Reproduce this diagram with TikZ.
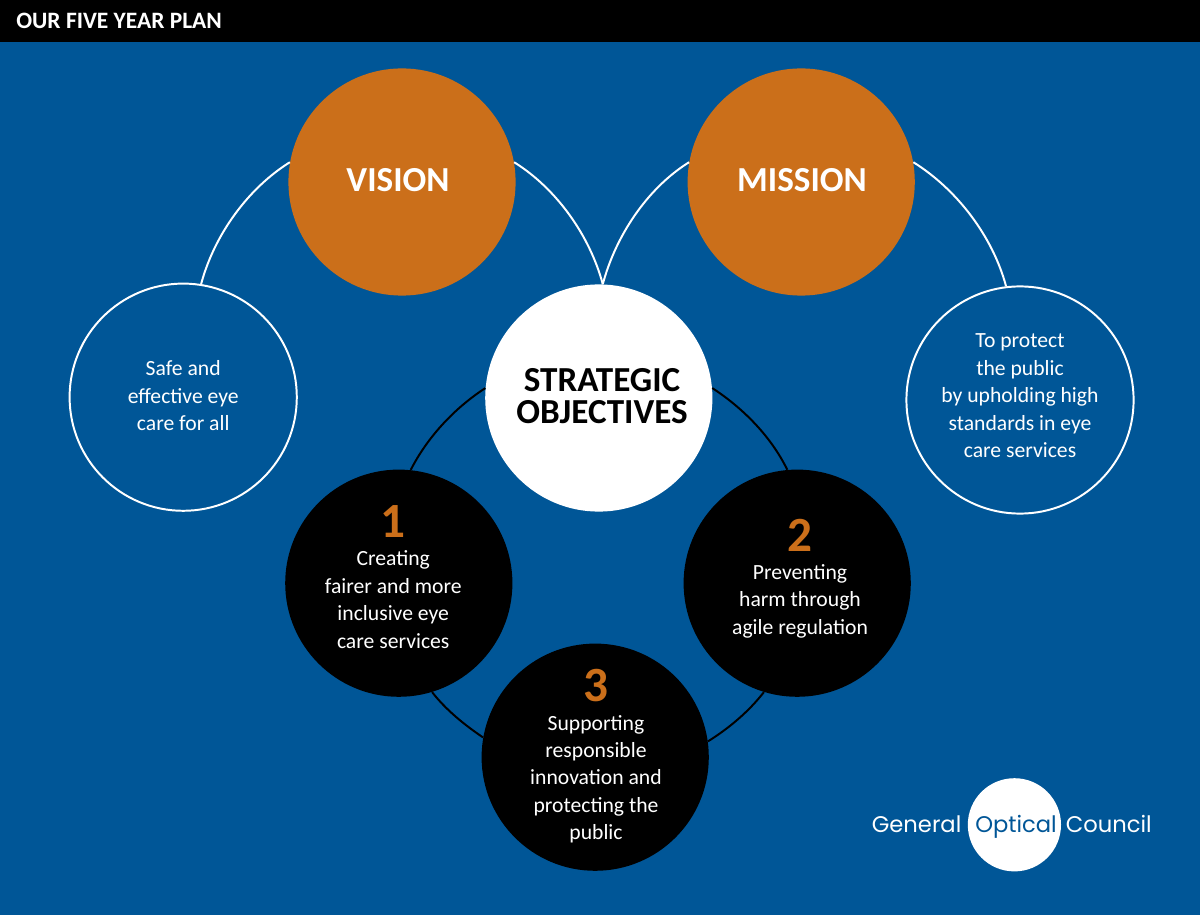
\documentclass[tikz,border=0pt]{standalone}
\usepackage{fontspec}
\setmainfont{Carlito}
\newfontfamily\logofont{Poppins}
\usepackage{xcolor}
\definecolor{gocblue}{HTML}{005697}
\definecolor{gocorange}{HTML}{CB6F1A}
\usetikzlibrary{positioning}

\begin{document}
\begin{tikzpicture}[align=center,
  circ/.style={circle, minimum size=5.68cm, inner sep=0pt},
  orangecirc/.style={circ, fill=gocorange},
  ringcirc/.style={circ, draw=white, line width=1.4pt, fill=gocblue},
  darkcirc/.style={circ, fill=black},
  hdr/.style={font=\fontsize{25}{28}\selectfont\bfseries, text=white},
  body/.style={font=\fontsize{15.4}{19.55}\selectfont, text=white},
  num/.style={font=\fontsize{35}{38}\selectfont\bfseries, text=gocorange},
  logo/.style={font=\logofont\fontsize{16.1}{19}\selectfont},
  wire/.style={line width=1.4pt, draw=white, looseness=0.85},
  darkwire/.style={line width=1.4pt, draw=black, looseness=0.85},
]
\useasboundingbox (0,0) rectangle (30,-22.875);

%% Background and title bar
\node[rectangle, fill=gocblue, inner sep=0pt, minimum width=30cm, minimum height=22.875cm, anchor=north west] (page) at (0,0) {};
\node[rectangle, fill=black, inner sep=0pt, minimum width=30cm, minimum height=1.05cm, anchor=north west] (titlebar) at (0,0) {};
\node[font=\fontsize{16.7}{19}\selectfont\bfseries, text=white, anchor=west, inner sep=0pt] (title) at (0.4,-0.53) {OUR FIVE YEAR PLAN};

%% Upper circles
\node[orangecirc] (vision) at (10.05,-4.55) {};
\node[orangecirc] (mission) at (20.03,-4.55) {};
\node[ringcirc] (safe) at (4.58,-9.93) {};
\node[ringcirc] (protect) at (25.5,-10.0) {};
\node[circ, fill=white] (strategic) at (14.97,-9.95) {};

%% Lower circles
\node[darkcirc] (obj1) at (9.97,-14.58) {};
\node[darkcirc] (obj2) at (19.93,-14.58) {};
\node[darkcirc] (obj3) at (14.88,-18.93) {};

%% Connectors
\draw[wire] (vision.170) to[out=212,in=75] (safe.81);
\draw[wire] (vision.10) to[out=328,in=105] (strategic.88);
\draw[wire] (mission.170) to[out=212,in=75] (strategic.88);
\draw[wire] (mission.10) to[out=328,in=105] (protect.97);
\draw[darkwire] (strategic.175) to[out=213,in=63] (obj1.84);
\draw[darkwire] (obj1.287) to[out=308,in=146] (obj3.170);
\draw[darkwire] (obj3.8) to[out=32,in=232] (obj2.253);
\draw[darkwire] (obj2.95) to[out=116,in=327] (strategic.5);

%% Labels
\node[hdr] (visionlbl) at (9.95,-4.5) {VISION};
\node[hdr] (missionlbl) at (20.05,-4.5) {MISSION};
\node[hdr, text=black, font=\fontsize{25}{23}\selectfont\bfseries] (strategiclbl) at (15.05,-9.9) {STRATEGIC\\OBJECTIVES};
\node[body] (safelbl) at (4.58,-9.9) {Safe and\\effective eye\\care for all};
\node[body] (protectlbl) at (25.5,-9.9) {To protect\\the public\\by upholding high\\standards in eye\\care services};

\node[num] (num1) at (9.83,-13.05) {1};
\node[body, below=0.07cm of num1] (obj1lbl) {Creating\\fairer and more\\inclusive eye\\care services};
\node[num] (num2) at (20.0,-13.38) {2};
\node[body, below=0.07cm of num2] (obj2lbl) {Preventing\\harm through\\agile regulation};
\node[num] (num3) at (14.9,-17.15) {3};
\node[body, below=0.07cm of num3] (obj3lbl) {Supporting\\responsible\\innovation and\\protecting the\\public};

%% Logo
\node[circle, fill=white, minimum size=2.33cm, inner sep=0pt] (logocirc) at (25.36,-20.62) {};
\node[logo, text=gocblue, anchor=base] (optical) at (25.4,-20.8) {Optical};
\node[logo, text=white, base left=0.1cm of optical] (general) {General};
\node[logo, text=white, base right=-0.02cm of optical] (council) {Council};

\end{tikzpicture}
\end{document}
